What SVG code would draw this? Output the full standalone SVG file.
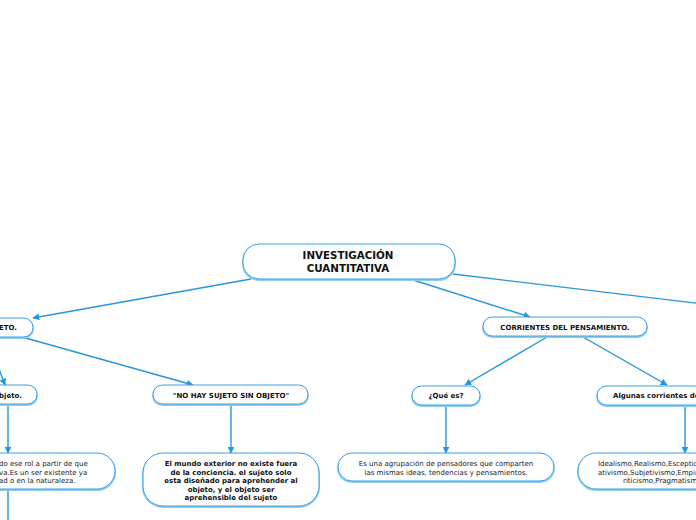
<svg xmlns="http://www.w3.org/2000/svg" width="696" height="520" viewBox="0 0 696 520">
<style>
.sh{fill:none;stroke:#8ecbf2;stroke-width:2}
.bx{fill:#ffffff;stroke:#3c9fe2;stroke-width:1}
.ln{fill:none;stroke:#2896dd;stroke-width:1.4}
.tb{font-family:"DejaVu Sans",Verdana,sans-serif;font-weight:bold;font-size:7px;fill:#111}
.tr{font-family:"DejaVu Sans",Verdana,sans-serif;font-size:7px;fill:#222}
.tt{font-family:"DejaVu Sans",Verdana,sans-serif;font-weight:bold;font-size:10.3px;fill:#111}
</style>
<defs>
<marker id="ar" viewBox="0 0 10 10" refX="9" refY="5" markerWidth="7" markerHeight="7" markerUnits="userSpaceOnUse" orient="auto">
<path d="M0,0 L10,5 L0,10 z" fill="#2896dd"/>
</marker>
</defs>
<rect width="696" height="520" fill="#ffffff"/>
<g id="connectors">
<line class="ln" x1="251" y1="279" x2="33" y2="318" marker-end="url(#ar)"/>
<line class="ln" x1="410" y1="279" x2="530" y2="317" marker-end="url(#ar)"/>
<line class="ln" x1="453" y1="274" x2="720" y2="306"/>
<line class="ln" x1="-13" y1="337" x2="5" y2="385" marker-end="url(#ar)"/>
<line class="ln" x1="22" y1="337" x2="193" y2="385" marker-end="url(#ar)"/>
<line class="ln" x1="8" y1="405" x2="8" y2="453" marker-end="url(#ar)"/>
<line class="ln" x1="8" y1="490" x2="8" y2="525"/>
<line class="ln" x1="231" y1="405" x2="231" y2="453" marker-end="url(#ar)"/>
<line class="ln" x1="547" y1="337" x2="465" y2="385" marker-end="url(#ar)"/>
<line class="ln" x1="583" y1="337" x2="667" y2="385" marker-end="url(#ar)"/>
<line class="ln" x1="446" y1="405" x2="446" y2="453" marker-end="url(#ar)"/>
<line class="ln" x1="685" y1="405" x2="685" y2="453" marker-end="url(#ar)"/>
</g>
<g id="root">
<rect class="sh" x="243" y="245" width="212" height="35" rx="16"/>
<rect class="bx" x="243" y="244" width="212" height="35" rx="16"/>
<text class="tt" x="348" y="259" text-anchor="middle">INVESTIGACIÓN</text>
<text class="tt" x="348" y="272" text-anchor="middle">CUANTITATIVA</text>
</g>
<g id="n-left">
<rect class="sh" x="-90" y="319" width="123" height="19" rx="9.5"/>
<rect class="bx" x="-90" y="318" width="123" height="19" rx="9.5"/>
<text class="tb" x="17" y="330" text-anchor="end">JETO.</text>
</g>
<g id="n-corrientes">
<rect class="sh" x="483" y="318" width="164" height="19" rx="9.5"/>
<rect class="bx" x="483" y="317" width="164" height="19" rx="9.5"/>
<text class="tb" x="565" y="330" text-anchor="middle">CORRIENTES DEL PENSAMIENTO.</text>
</g>
<g id="n-objeto">
<rect class="sh" x="-60" y="386" width="97" height="19" rx="9.5"/>
<rect class="bx" x="-60" y="385" width="97" height="19" rx="9.5"/>
<text class="tb" x="-1" y="398">bjeto.</text>
</g>
<g id="n-nohay">
<rect class="sh" x="153" y="386" width="155" height="19" rx="9.5"/>
<rect class="bx" x="153" y="385" width="155" height="19" rx="9.5"/>
<text class="tb" x="231" y="398" text-anchor="middle">"NO HAY SUJETO SIN OBJETO"</text>
</g>
<g id="n-quees">
<rect class="sh" x="412" y="387" width="68" height="19" rx="9.5"/>
<rect class="bx" x="412" y="386" width="68" height="19" rx="9.5"/>
<text class="tb" x="446" y="398" text-anchor="middle">¿Qué es?</text>
</g>
<g id="n-algunas">
<rect class="sh" x="597" y="387" width="160" height="19" rx="9.5"/>
<rect class="bx" x="597" y="386" width="160" height="19" rx="9.5"/>
<text class="tb" x="613" y="398">Algunas corrientes de</text>
</g>
<g id="n-lefttext">
<rect class="sh" x="-100" y="454" width="215" height="36" rx="18"/>
<rect class="bx" x="-100" y="453" width="215" height="36" rx="18"/>
<text class="tr" x="-1" y="466">do ese rol a partir de que</text>
<text class="tr" x="-1" y="474.5">va.Es un ser existente ya</text>
<text class="tr" x="-1" y="483">ad o en la naturaleza.</text>
</g>
<g id="n-mundo">
<rect class="sh" x="143" y="454" width="176" height="53" rx="20"/>
<rect class="bx" x="143" y="453" width="176" height="53" rx="20"/>
<text class="tb" x="231" y="466" text-anchor="middle">El mundo exterior no existe fuera</text>
<text class="tb" x="231" y="474.5" text-anchor="middle">de la conciencia. el sujeto solo</text>
<text class="tb" x="231" y="483" text-anchor="middle">esta diseñado para aprehender al</text>
<text class="tb" x="231" y="491.5" text-anchor="middle">objeto, y el objeto ser</text>
<text class="tb" x="231" y="500" text-anchor="middle">aprehensible del sujeto</text>
</g>
<g id="n-agrupacion">
<rect class="sh" x="338" y="454" width="216" height="28" rx="14"/>
<rect class="bx" x="338" y="453" width="216" height="28" rx="14"/>
<text class="tr" x="446" y="466" text-anchor="middle">Es una agrupación de pensadores que comparten</text>
<text class="tr" x="446" y="474.5" text-anchor="middle">las mismas ideas, tendencias y pensamientos.</text>
</g>
<g id="n-ideal">
<rect class="sh" x="578" y="454" width="215" height="36" rx="18"/>
<rect class="bx" x="578" y="453" width="215" height="36" rx="18"/>
<text class="tr" x="598" y="466">Idealismo,Realismo,Escepticismo,Rel</text>
<text class="tr" x="598" y="474.5">ativismo,Subjetivismo,Empirismo,C</text>
<text class="tr" x="623" y="483">riticismo,Pragmatismo</text>
</g>
</svg>
